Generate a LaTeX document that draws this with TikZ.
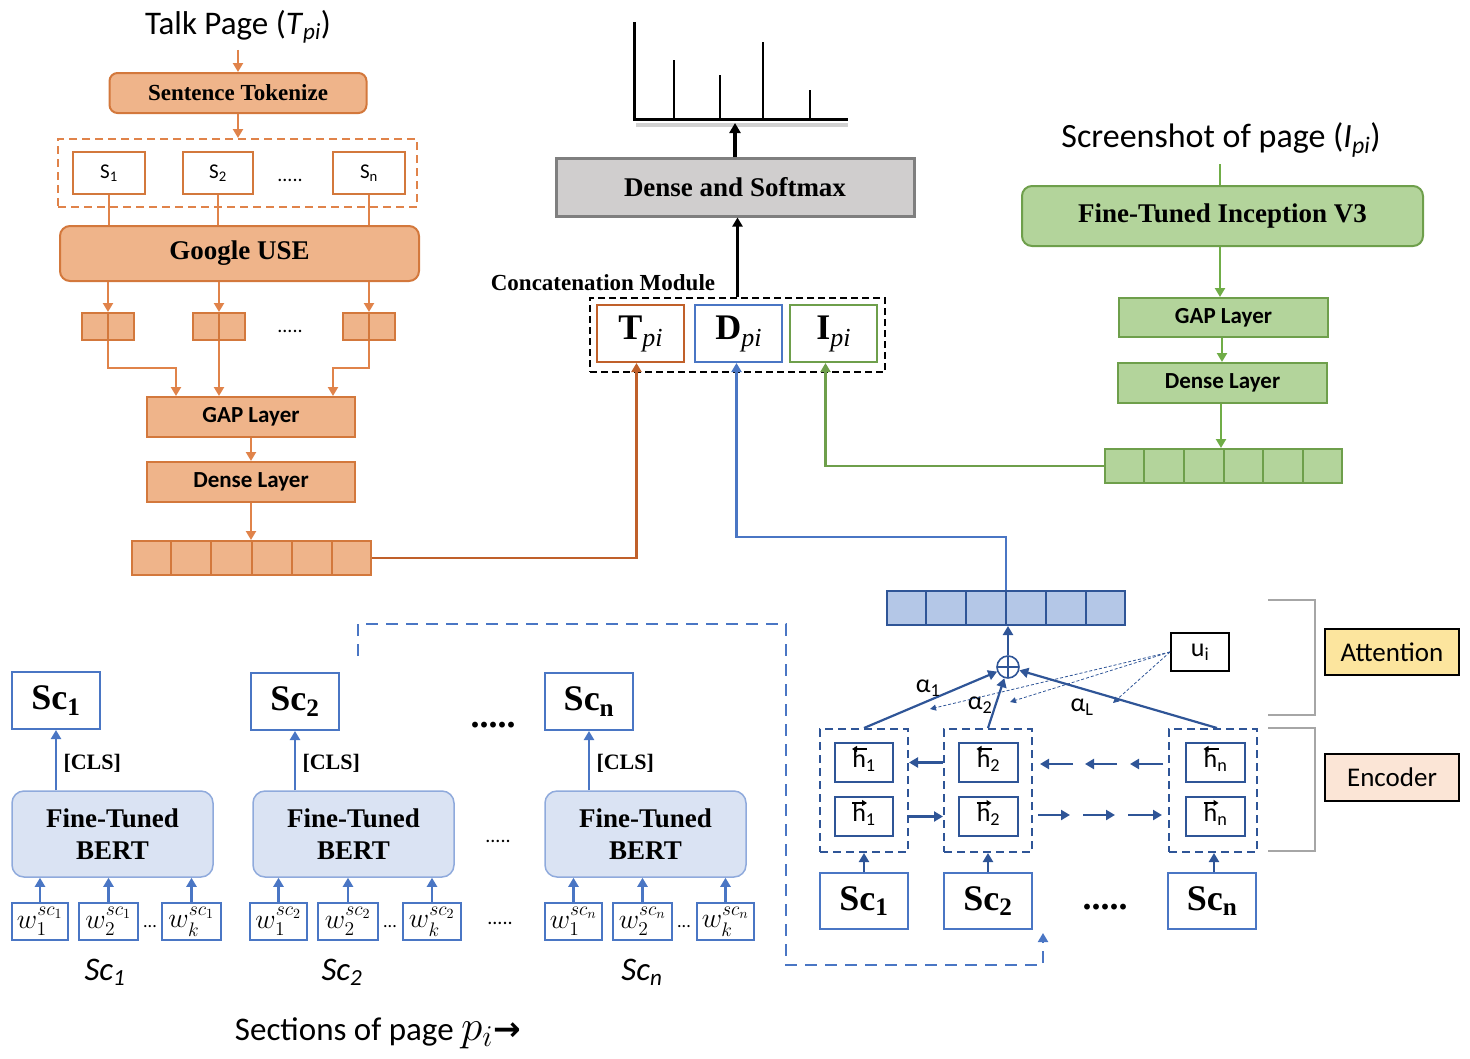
\RequirePackage{fix-cm}
\documentclass[tikz,border=0pt]{standalone}
\usepackage{graphicx}
\usepackage{fontspec}
\usepackage{amsmath}
\setmainfont{Liberation Serif}
\setsansfont{Carlito}
\newfontfamily\djv{DejaVu Sans}
\usetikzlibrary{arrows.meta,calc}
\definecolor{orF}{HTML}{EFB48A}
\definecolor{orD}{HTML}{D3783C}
\definecolor{orL}{HTML}{E0834A}
\definecolor{orK}{HTML}{C0602A}
\definecolor{grF}{HTML}{B3D49B}
\definecolor{grD}{HTML}{6E9F4B}
\definecolor{grL}{HTML}{70AD47}
\definecolor{blF}{HTML}{DAE3F3}
\definecolor{blE}{HTML}{8FAADC}
\definecolor{blB}{HTML}{4A76C4}
\definecolor{blD}{HTML}{2F5597}
\definecolor{blV}{HTML}{B4C7E7}
\definecolor{gyF}{HTML}{D0CECE}
\definecolor{gyD}{HTML}{7F7F7F}
\definecolor{attF}{HTML}{FCE59E}
\definecolor{encF}{HTML}{FBE5D6}
\newcommand\fsz[2]{\fontsize{#1}{#2}\selectfont}
\newcommand\cmlab[1]{{\rmfamily\bfseries\fsz{36}{36}#1}{\rmfamily\itshape\fsz{26}{26}\raisebox{-7pt}{pi}}}
\newcommand\wl[2]{{\fsz{20}{20}\scalebox{1.4}{$w_{#1}^{sc_{#2}}$}}}
\begin{document}
\begin{tikzpicture}[x=1pt,y=-1pt,
  >={Triangle[width=10pt,length=9pt]},
  sz/.style 2 args={minimum width=#1pt, minimum height=#2pt},
  obox/.style={draw=orD, fill=orF, line width=2pt, inner sep=0pt},
  gbox/.style={draw=grD, fill=grF, line width=2pt, inner sep=0pt},
  wbox/.style={draw=#1, fill=white, line width=2pt, inner sep=0pt},
  oc/.style={draw=orL, line width=2.2pt},
  ok/.style={draw=orK, line width=2.4pt},
  gc/.style={draw=grL, line width=2.2pt},
  gk/.style={draw=grD, line width=2.4pt},
  bc/.style={draw=blB, line width=2.4pt},
  bdc/.style={draw=blD, line width=2.2pt},
  harr/.style={draw=black, line width=1.4pt, -{Triangle[width=6pt,length=5pt]}},
  tdc/.style={draw=blD, line width=0.8pt, dash pattern=on 3pt off 2pt, -{Triangle[width=6pt,length=6pt]}},
  dbox/.style={draw=blD, line width=2pt, dash pattern=on 8pt off 5pt, inner sep=0pt},
  bert/.style={draw=blE, fill=blF, line width=1.5pt, rounded corners=12pt, inner sep=0pt, sz={201}{86}, align=center, font=\rmfamily\bfseries\fsz{27}{32}},
  scb/.style={wbox=blB, sz={88}{57}, font=\rmfamily\bfseries\fsz{36}{36}},
  wb/.style={wbox=blB, minimum height=37pt},
  hbx/.style={wbox=blD, sz={58}{39}, font=\sffamily\fsz{26}{26}, text height=15pt, text depth=5pt},
  sans/.style={font=\sffamily\fsz{#1}{#1}},
]
\useasboundingbox (0,0) rectangle (1470,1058);

% ---------------- left orange branch ----------------
\node[font=\sffamily\fsz{33}{36}] (tp) at (238,27) {Talk Page (\textit{T}\textsubscript{\textit{pi}})};
\node[obox, rounded corners=8pt, sz={257}{40}, font=\rmfamily\bfseries\fsz{23}{26}] (st) at (238,93) {Sentence Tokenize};
\node[draw=orL, line width=2pt, dash pattern=on 8pt off 5pt, sz={359}{68}, inner sep=0pt] (sb) at (237.5,173) {};
\node[wbox=orD, sz={72}{42}, font=\sffamily\fsz{21}{24}] (s1) at (109,173) {S\textsubscript{1}};
\node[wbox=orD, sz={70}{42}, font=\sffamily\fsz{21}{24}] (s2) at (218,173) {S\textsubscript{2}};
\node[wbox=orD, sz={72}{42}, font=\sffamily\fsz{21}{24}] (sn) at (369,173) {S\textsubscript{n}};
\node[sans=20] (sd) at (290,180) {.....};
\node[obox, rounded corners=10pt, sz={359}{55}, font=\rmfamily\bfseries\fsz{27}{30}] (gu) at (239.5,253.5) {Google USE};
\node[obox, sz={52}{27}] (v1) at (108,326.5) {};
\node[obox, sz={52}{27}] (v2) at (219,326.5) {};
\node[obox, sz={52}{27}] (v3) at (369,326.5) {};
\foreach \v in {v1,v2,v3} \draw[orD, line width=2pt] (\v.north) -- (\v.south);
\node[sans=20] (vd) at (290,331) {.....};
\node[obox, sz={208}{40}, font=\sffamily\bfseries\fsz{23}{26}] (gap1) at (251,417) {GAP Layer};
\node[obox, sz={208}{40}, font=\sffamily\bfseries\fsz{23}{26}] (dn1) at (251,482) {Dense Layer};
\node[obox, sz={239}{34}] (ov) at (251.5,558) {};
\foreach \i in {1,...,5} \draw[orD, line width=2pt] ($(ov.north west)!\i/6!(ov.north east)$) -- ($(ov.south west)!\i/6!(ov.south east)$);

\draw[oc,->, shorten <=3pt] (tp.south -| st.north) -- (st.north);
\draw[oc,->] (st.south) -- (st.south |- sb.north);
\foreach \s in {s1,s2,sn} \draw[oc] (\s.south) -- (\s.south |- gu.north);
\foreach \v in {v1,v2,v3} \draw[oc,->] (\v.north |- gu.south) -- (\v.north);
\draw[oc,->] (v1.south) -- ++(0,27) -| ([xshift=-75pt]gap1.north);
\draw[oc,->] (v2.south) -- (v2.south |- gap1.north);
\draw[oc,->] (v3.south) -- ++(0,27) -| ([xshift=82pt]gap1.north);
\draw[oc,->] (gap1.south) -- (dn1.north);
\draw[oc,->] (dn1.south) -- (dn1.south |- ov.north);

% ---------------- middle ----------------
\node[draw=gyD, fill=gyF, line width=3pt, sz={358}{58}, inner sep=0pt, font=\rmfamily\bfseries\fsz{27}{30}] (ds) at (735,187) {Dense and Softmax};
\draw[black!18, line width=4pt] (636,125) -- (848,125);
\draw[line width=3pt] (634,22) -- (634,119) -- (848,119);
\foreach \x/\t in {674/60,720/75,763/42,810/90} \draw[line width=2.6pt] (\x,119) -- (\x,\t);
\coordinate (base) at (737,123);
\draw[line width=3.6pt, -{Triangle[width=11pt,length=10pt]}] (ds.north) -- (ds.north |- base);

\node[font=\rmfamily\bfseries\fsz{23}{26}] (cml) at (603,283) {Concatenation Module};
\node[draw, line width=2pt, dash pattern=on 7pt off 4pt, sz={295}{74}, inner sep=0pt] (cm) at (737.5,335) {};
\node[wbox=orK, sz={87}{57}] (tb) at (640.5,333.5) {\cmlab{T}};
\node[wbox=blB, sz={87}{57}] (db) at (738.5,333.5) {\cmlab{D}};
\node[wbox=grD, sz={87}{57}] (ib) at (833.5,333.5) {\cmlab{I}};
\draw[line width=2.2pt, ->] (cm.north) -- (cm.north |- ds.south);

% ---------------- right green branch ----------------
\node[font=\sffamily\fsz{34}{36}] (sst) at (1221,140) {Screenshot of page (\textit{I}\textsubscript{\textit{pi}})};
\node[gbox, rounded corners=10pt, sz={401}{60}, font=\rmfamily\bfseries\fsz{27}{30}] (inc) at (1222.5,216) {Fine-Tuned Inception V3};
\node[gbox, sz={209}{39}, font=\sffamily\bfseries\fsz{23}{26}] (gap2) at (1223.5,317.5) {GAP Layer};
\node[gbox, sz={209}{40}, font=\sffamily\bfseries\fsz{23}{26}] (dn2) at (1222.5,383) {Dense Layer};
\node[gbox, sz={237}{34}] (gv) at (1223.5,466) {};
\foreach \i in {1,...,5} \draw[grD, line width=2pt] ($(gv.north west)!\i/6!(gv.north east)$) -- ($(gv.south west)!\i/6!(gv.south east)$);
\draw[gc, shorten <=4pt] (sst.south -| 1220,0) -- (inc.north -| 1220,0);
\draw[gc,->] (inc.south -| 1220,0) -- (gap2.north -| 1220,0);
\draw[gc,->] (gap2.south -| 1222,0) -- (dn2.north -| 1222,0);
\draw[gc,->] (dn2.south -| 1221,0) -- (gv.north -| 1221,0);

% connectors into the concatenation module
\draw[ok,->] (ov.east) -| ([xshift=-4pt]tb.south);
\draw[gk,->] (gv.west) -| ([xshift=-8pt]ib.south);

% ---------------- attention / encoder ----------------
\node[draw=blD, fill=blV, line width=2pt, sz={238}{34}, inner sep=0pt] (bv) at (1006,608) {};
\foreach \i in {1,...,5} \draw[blD, line width=2pt] ($(bv.north west)!\i/6!(bv.north east)$) -- ($(bv.south west)!\i/6!(bv.south east)$);
\draw[bc,->] (bv.north) -- ++(0,-53) -| ([xshift=-2pt]db.south);

\node[circle, draw=blD, fill=white, line width=1.6pt, minimum size=22pt, inner sep=0pt,
  path picture={\draw[blD, line width=1.6pt] (path picture bounding box.north) -- (path picture bounding box.south) (path picture bounding box.west) -- (path picture bounding box.east);}] (cp) at (1008,667) {};
\draw[bdc,->] (cp.north) -- (cp.north |- bv.south);

\node[draw, line width=2pt, sz={58}{38}, inner sep=0pt, sans=26] (ui) at (1200,652) {u\textsubscript{i}};

\node[dbox, sz={88}{123}] (e1) at (864,790.5) {};
\node[dbox, sz={88}{123}] (e2) at (988,790.5) {};
\node[dbox, sz={88}{123}] (e3) at (1213,790.5) {};
\node[hbx] (hb1) at (864,762.5) {h\textsubscript{1}};
\node[hbx] (hf1) at (864,816.5) {h\textsubscript{1}};
\node[hbx, minimum width=59pt] (hb2) at (988.5,762.5) {h\textsubscript{2}};
\node[hbx, minimum width=59pt] (hf2) at (988.5,816.5) {h\textsubscript{2}};
\node[hbx, minimum width=59pt] (hbn) at (1215.5,762.5) {h\textsubscript{n}};
\node[hbx, minimum width=59pt] (hfn) at (1215.5,816.5) {h\textsubscript{n}};
\foreach \h in {hb1,hb2,hbn} \draw[harr] ([xshift=3pt,yshift=13.5pt]\h.center) -- ([xshift=-12pt,yshift=13.5pt]\h.center);
\foreach \h in {hf1,hf2,hfn} \draw[harr] ([xshift=-12pt,yshift=13.5pt]\h.center) -- ([xshift=3pt,yshift=13.5pt]\h.center);
\node[scb, sz={88}{56}] (sc1e) at (864,901) {Sc\textsubscript{1}};
\node[scb, sz={88}{56}] (sc2e) at (988,901) {Sc\textsubscript{2}};
\node[scb, sz={88}{56}] (scne) at (1212,901) {Sc\textsubscript{n}};
\node[font=\rmfamily\bfseries\fsz{36}{36}] (ed) at (1105,907) {.....};

\draw[bdc,->] (sc1e.north) -- (sc1e.north |- e1.south);
\draw[bdc,->] (sc2e.north) -- (sc2e.north |- e2.south);
\draw[bdc,->] (scne.north -| 1214,0) -- (e3.south -| 1214,0);
\draw[bdc,->] (e2.west |- hb2) -- (e1.east |- hb1);
\draw[bdc,->] (e1.east |- hf1) -- (e2.west |- hf2);
\foreach \a/\b in {1073/1040,1117/1085,1163/1130} \draw[bdc,->] (\a,764) -- (\b,764);
\foreach \a/\b in {1038/1070,1083/1115,1128/1162} \draw[bdc,->] (\a,815) -- (\b,815);

\draw[bdc,->] (e1.north) -- (cp);
\draw[bdc,->] (e2.north) -- (cp);
\draw[bdc,->] ([xshift=4pt]e3.north) -- (cp);
\node[sans=26] (al1) at (928,688) {α\textsubscript{1}};
\node[sans=26] (al2) at (980,705) {α\textsubscript{2}};
\node[sans=26] (alL) at (1082,707) {α\textsubscript{L}};
\coordinate (a1) at (930,709);
\coordinate (a2) at (1010,702);
\coordinate (aL) at (1113,703);
\draw[tdc] (ui.west) -- (a1);
\draw[tdc] (ui.west) -- (a2);
\draw[tdc] (ui.west) -- (aL);

% brackets and legend
\draw[gray!70, line width=1.4pt] (1268,600) -- (1315,600) -- (1315,715) -- (1268,715);
\draw[gray!70, line width=1.4pt] (1268,728) -- (1315,728) -- (1315,851) -- (1268,851);
\node[draw, fill=attF, line width=1.5pt, sz={134}{46}, inner sep=0pt, sans=27] (att) at (1392,652) {Attention};
\node[draw, fill=encF, line width=1.5pt, sz={134}{47}, inner sep=0pt, sans=27] (enc) at (1392,777.5) {Encoder};

% dashed route from BERT section to encoder
\draw[blB, line width=2pt, dash pattern=on 12pt off 8pt, ->] (358,656) -- (358,624) -- (786,624) -- (786,965) -- (1043,965) -- (1043,933);

% ---------------- BERT section encoders ----------------
\node[scb] (bsc1) at (56,700.5) {Sc\textsubscript{1}};
\node[scb] (bsc2) at (295,701.5) {Sc\textsubscript{2}};
\node[scb] (bscn) at (589,701.5) {Sc\textsubscript{n}};
\node[font=\rmfamily\bfseries\fsz{36}{36}] (bd1) at (493,725) {.....};
\node[bert] (bert1) at (112.5,834) {Fine-Tuned\\BERT};
\node[bert] (bert2) at (353.5,834) {Fine-Tuned\\BERT};
\node[bert] (bertn) at (645.5,834) {Fine-Tuned\\BERT};
\node[sans=20] (bd2) at (498,841) {.....};
\draw[bc,->] (bsc1.south |- bert1.north) -- (bsc1.south);
\draw[bc,->] (bsc2.south |- bert2.north) -- (bsc2.south);
\draw[bc,->] (bscn.south |- bertn.north) -- (bscn.south);
\node[font=\rmfamily\bfseries\fsz{22}{24}, anchor=west] (cls1) at (60,763) {[CLS]};
\node[font=\rmfamily\bfseries\fsz{22}{24}, anchor=west] (cls2) at (299,763) {[CLS]};
\node[font=\rmfamily\bfseries\fsz{22}{24}, anchor=west] (clsn) at (593,763) {[CLS]};

\node[wb, minimum width=56pt] (w11) at (40,921.5) {\wl{1}{1}};
\node[wb, minimum width=59pt] (w12) at (108.5,921.5) {\wl{2}{1}};
\node[wb, minimum width=59pt] (w1k) at (191.5,921.5) {\wl{k}{1}};
\node[wb, minimum width=57pt] (w21) at (278.5,921.5) {\wl{1}{2}};
\node[wb, minimum width=60pt] (w22) at (348,921.5) {\wl{2}{2}};
\node[wb, minimum width=58pt] (w2k) at (432,921.5) {\wl{k}{2}};
\node[wb, minimum width=57pt] (wn1) at (573.5,921.5) {\wl{1}{n}};
\node[wb, minimum width=59pt] (wn2) at (642.5,921.5) {\wl{2}{n}};
\node[wb, minimum width=57pt] (wnk) at (725.5,921.5) {\wl{k}{n}};
\foreach \w/\b in {w11/bert1,w12/bert1,w1k/bert1,w21/bert2,w22/bert2,w2k/bert2,wn1/bertn,wn2/bertn,wnk/bertn}
  \draw[bc,->] (\w.north) -- (\w.north |- \b.south);
\node[sans=18] (wd1) at (150,927) {...};
\node[sans=18] (wd2) at (390,927) {...};
\node[sans=18] (wdn) at (684,927) {...};
\node[sans=20] (wdm) at (500,923) {.....};

\node[font=\sffamily\itshape\fsz{33}{34}] (l1) at (105,972) {Sc\textsubscript{1}};
\node[font=\sffamily\itshape\fsz{33}{34}] (l2) at (342,972) {Sc\textsubscript{2}};
\node[font=\sffamily\itshape\fsz{33}{34}] (ln) at (642,972) {Sc\textsubscript{n}};
\node[font=\sffamily\fsz{33}{34}] (secs) at (378,1033) {Sections of page {\fsz{24}{24}\scalebox{1.8}{$p_i$}}{\djv\bfseries →}};
\end{tikzpicture}
\end{document}
